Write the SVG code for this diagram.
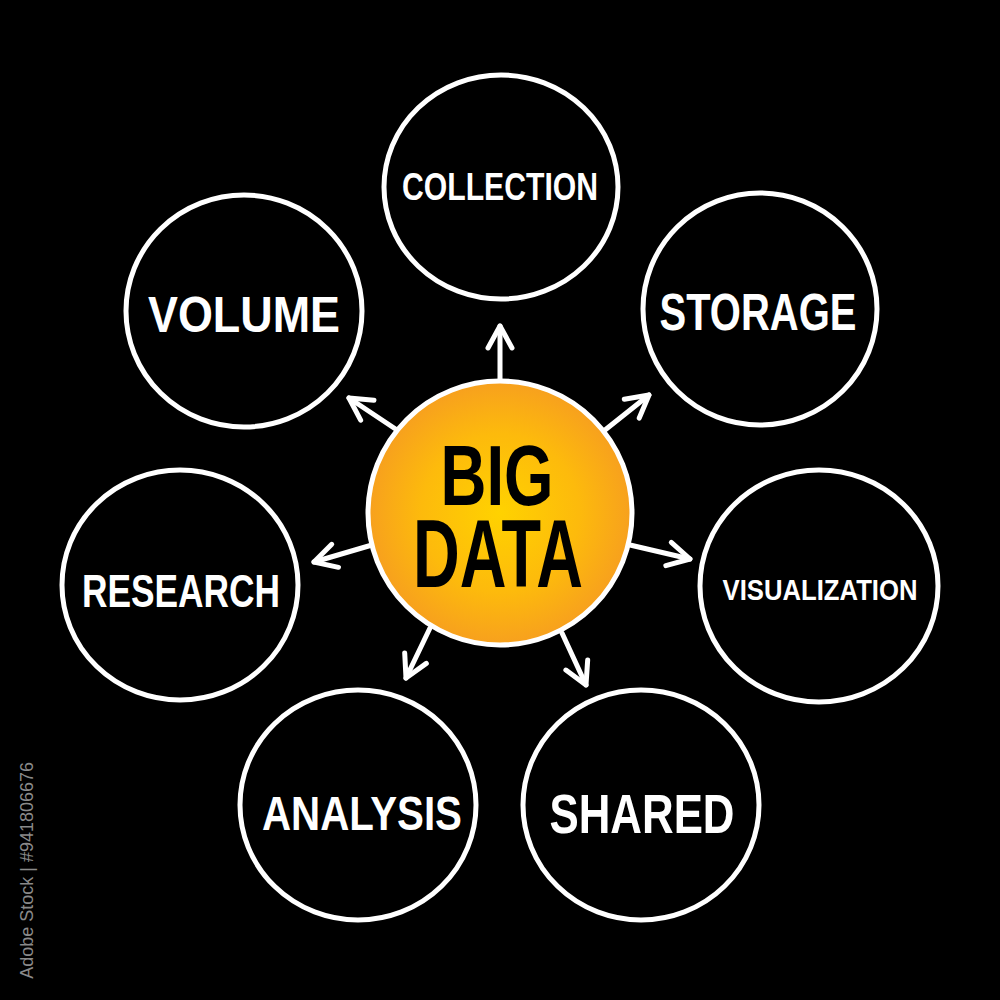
<svg xmlns="http://www.w3.org/2000/svg" width="1000" height="1000" viewBox="0 0 1000 1000">
  <defs>
    <radialGradient id="gOrange" cx="0.5" cy="0.5" r="0.5">
      <stop offset="0" stop-color="#FFD200"/>
      <stop offset="0.6" stop-color="#FDBA0C"/>
      <stop offset="1" stop-color="#F7A01E"/>
    </radialGradient>
    <marker id="arr" markerUnits="userSpaceOnUse" markerWidth="34" markerHeight="34" viewBox="-30 -17 34 34" refX="0" refY="0" orient="auto">
      <path d="M-22,-12 L0,0 L-22,12" fill="none" stroke="#fff" stroke-width="5" stroke-linecap="round" stroke-linejoin="round"/>
    </marker>
    <style>
      .ring { fill: #000; stroke: #fff; stroke-width: 5; }
      .lbl { font-family: "Liberation Sans", Arial, sans-serif; font-weight: bold; fill: #fff; text-anchor: middle; }
      .big { font-family: "Liberation Sans", Arial, sans-serif; font-weight: bold; fill: #000; text-anchor: middle; }
      .conn { stroke: #fff; stroke-width: 5; stroke-linecap: round; fill: none; marker-end: url(#arr); }
      .wm { font-family: "Liberation Sans", Arial, sans-serif; fill: #8a8a8a; text-anchor: end; }
    </style>
  </defs>
  <rect width="1000" height="1000" fill="#000"/>

  <g id="connectors">
    <line class="conn" x1="500" y1="382" x2="500" y2="326"/>
    <line class="conn" x1="605" y1="430" x2="649" y2="395"/>
    <line class="conn" x1="630" y1="545" x2="690" y2="559"/>
    <line class="conn" x1="562" y1="633" x2="586" y2="685"/>
    <line class="conn" x1="430" y1="628" x2="406" y2="678"/>
    <line class="conn" x1="372" y1="545" x2="314" y2="562"/>
    <line class="conn" x1="397" y1="430" x2="349" y2="398"/>
  </g>

  <g id="node-collection">
    <ellipse class="ring" cx="501" cy="187" rx="117" ry="112"/>
    <text class="lbl" x="500" y="200" font-size="38" textLength="196" lengthAdjust="spacingAndGlyphs">COLLECTION</text>
  </g>
  <g id="node-volume">
    <ellipse class="ring" cx="244" cy="311" rx="118" ry="116"/>
    <text class="lbl" x="244" y="332" font-size="50" textLength="192" lengthAdjust="spacingAndGlyphs">VOLUME</text>
  </g>
  <g id="node-storage">
    <ellipse class="ring" cx="760" cy="309" rx="117" ry="116"/>
    <text class="lbl" x="758" y="330" font-size="52" textLength="197" lengthAdjust="spacingAndGlyphs">STORAGE</text>
  </g>
  <g id="node-research">
    <ellipse class="ring" cx="180" cy="585" rx="118" ry="115"/>
    <text class="lbl" x="181" y="607" font-size="47" textLength="198" lengthAdjust="spacingAndGlyphs">RESEARCH</text>
  </g>
  <g id="node-visualization">
    <ellipse class="ring" cx="819" cy="586" rx="119" ry="116"/>
    <text class="lbl" x="820" y="600" font-size="29" textLength="195" lengthAdjust="spacingAndGlyphs">VISUALIZATION</text>
  </g>
  <g id="node-analysis">
    <ellipse class="ring" cx="358" cy="805" rx="118" ry="115"/>
    <text class="lbl" x="362" y="830" font-size="48" textLength="200" lengthAdjust="spacingAndGlyphs">ANALYSIS</text>
  </g>
  <g id="node-shared">
    <ellipse class="ring" cx="641" cy="805" rx="118" ry="115"/>
    <text class="lbl" x="642" y="833" font-size="56" textLength="185" lengthAdjust="spacingAndGlyphs">SHARED</text>
  </g>

  <g id="node-bigdata">
    <circle cx="500" cy="513" r="132" fill="url(#gOrange)" stroke="#fff" stroke-width="5"/>
    <text class="big"><tspan x="497" y="505" font-size="86" textLength="113" lengthAdjust="spacingAndGlyphs">BIG</tspan><tspan x="498" y="587" font-size="96" textLength="170" lengthAdjust="spacingAndGlyphs">DATA</tspan></text>
  </g>

  <text class="wm" transform="translate(33,762) rotate(-90)" font-size="18">Adobe Stock | #941806676</text>
</svg>
